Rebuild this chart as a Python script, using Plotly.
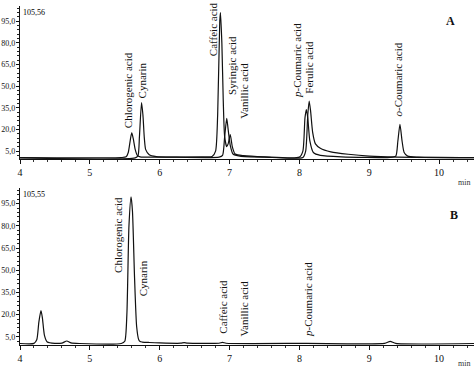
import plotly.graph_objects as go

# ---------------- data ----------------
# Panel A, trace 1 (standard mix, chromatogram 1)
a1_time = [4.0, 5.45, 5.52, 5.55, 5.58, 5.60, 5.62, 5.65, 5.68, 5.72, 6.0, 6.6, 6.75, 6.80, 6.83,
           6.86, 6.87, 6.89, 6.91, 6.93, 6.96, 6.98, 7.01, 7.04, 7.08, 7.2, 7.5, 8.0, 8.05, 8.08,
           8.10, 8.12, 8.15, 8.2, 8.3, 8.6, 9.3, 9.38, 9.41, 9.44, 9.47, 9.5, 9.55, 9.7, 10.5]
a1_signal = [0.5, 0.5, 1.0, 4.0, 13.0, 17.6, 14.0, 6.0, 2.0, 1.0, 0.8, 1.0, 1.2, 5.0, 30.0,
             95.0, 101.0, 80.0, 40.0, 15.0, 8.0, 10.0, 16.5, 8.0, 3.0, 1.8, 1.0, 0.8, 5.0, 28.0,
             33.8, 28.0, 12.0, 4.0, 2.0, 1.0, 0.6, 1.5, 12.0, 23.6, 12.0, 4.0, 1.5, 0.8, 0.5]

# Panel A, trace 2 (standard mix, chromatogram 2)
a2_time = [4.0, 5.65, 5.69, 5.71, 5.74, 5.76, 5.78, 5.80, 5.85, 5.95, 6.2, 6.85, 6.90, 6.93,
           6.96, 6.98, 7.01, 7.05, 7.15, 7.5, 8.05, 8.09, 8.12, 8.14, 8.16, 8.19, 8.23, 8.3,
           8.45, 8.7, 9.0, 9.4, 10.5]
a2_signal = [0.3, 0.3, 2.0, 15.0, 38.6, 30.0, 14.0, 6.0, 2.5, 1.2, 0.8, 0.8, 2.0, 15.0,
             27.6, 20.0, 9.0, 3.0, 1.5, 0.8, 0.6, 5.0, 30.0, 39.7, 33.0, 18.0, 10.0, 7.0,
             4.5, 2.8, 1.5, 0.8, 0.5]

# Panel B (sample)
b_time = [4.0, 4.2, 4.24, 4.27, 4.30, 4.32, 4.35, 4.39, 4.5, 4.6, 4.67, 4.73, 4.85, 5.45,
          5.50, 5.53, 5.56, 5.59, 5.61, 5.64, 5.67, 5.70, 5.72, 5.75, 5.85, 6.0, 6.3, 6.35,
          6.4, 6.85, 6.9, 6.95, 8.1, 9.22, 9.30, 9.38, 10.5]
b_signal = [0.5, 0.6, 3.0, 15.0, 22.7, 18.0, 6.0, 1.5, 0.6, 0.8, 2.2, 0.9, 0.5, 0.5,
            2.0, 20.0, 80.0, 99.6, 90.0, 45.0, 12.0, 3.0, 1.8, 1.5, 1.2, 0.9, 0.7, 1.1,
            0.7, 0.7, 1.3, 0.7, 0.6, 0.6, 2.0, 0.6, 0.5]

# Peak labels
labels_a = ["Chlorogenic acid", "Cynarin", "Caffeic acid", "Syringic acid", "Vanillic acid",
            "<i>p</i>-Coumaric acid", "Ferulic acid", "<i>o</i>-Coumaric acid"]
labels_a_x = [5.547, 5.748, 6.765, 7.037, 7.213, 7.968, 8.136, 9.415]
labels_a_y = [19.5, 40.2, 69.5, 42.3, 26.4, 40.2, 43.7, 27.8]

labels_b = ["Chlorogenic acid", "Cynarin", "Caffeic acid", "Vanillic acid", "<i>p</i>-Coumaric acid"]
labels_b_x = [5.404, 5.758, 6.904, 7.213, 8.126]
labels_b_y = [46.9, 30.9, 5.7, 4.1, 3.4]

y_max_a = 105.56
y_max_b = 105.55
y_max_text_a = "105,56"
y_max_text_b = "105,55"
panel_names = ["A", "B"]

# ---------------- figure ----------------
line_style = dict(color="#111111", width=1.2, shape="spline", smoothing=0.6)
fig = go.Figure()
fig.add_trace(go.Scatter(x=a1_time, y=a1_signal, mode="lines", line=line_style,
                         xaxis="x", yaxis="y", showlegend=False, hoverinfo="skip"))
fig.add_trace(go.Scatter(x=a2_time, y=a2_signal, mode="lines", line=line_style,
                         xaxis="x", yaxis="y", showlegend=False, hoverinfo="skip"))
fig.add_trace(go.Scatter(x=b_time, y=b_signal, mode="lines", line=line_style,
                         xaxis="x2", yaxis="y2", showlegend=False, hoverinfo="skip"))

serif = "Liberation Serif"
xtickfont = dict(family=serif, size=10, color="#111")
ytickfont = dict(family=serif, size=8, color="#111")

xcommon = dict(range=[4, 10.5], showline=True, linecolor="#111", linewidth=1.2,
               ticks="outside", ticklen=4, tickwidth=1, tickcolor="#111",
               tick0=4, dtick=1, tickfont=xtickfont, showgrid=False, zeroline=False,
               automargin=False,
               minor=dict(dtick=0.2, ticks="outside", ticklen=2, tickcolor="#333", showgrid=False),
               domain=[0, 1], fixedrange=True)
ycommon = dict(showline=True, linecolor="#111", linewidth=1.2,
               ticks="outside", ticklen=3, tickwidth=1, tickcolor="#111",
               tickmode="linear", tick0=5, dtick=15, tickformat=".1f",
               ticklabelstandoff=-1,
               tickfont=ytickfont, showgrid=False, zeroline=False, automargin=False,
               fixedrange=True,
               minor=dict(tick0=5, dtick=3, ticks="outside", ticklen=2, tickcolor="#222", showgrid=False))

fig.update_layout(
    width=474, height=368,
    margin=dict(l=20, r=0, t=0, b=0, autoexpand=False),
    paper_bgcolor="white", plot_bgcolor="white",
    separators=",.",
    xaxis=dict(**xcommon, anchor="y"),
    yaxis=dict(**ycommon, range=[-0.5, y_max_a], domain=[0.5679, 0.9837], anchor="x"),
    xaxis2=dict(**xcommon, anchor="y2"),
    yaxis2=dict(**ycommon, range=[-0.5, y_max_b], domain=[0.0625, 0.4891], anchor="x2"),
)

ann = []
for t, x, y in zip(labels_a, labels_a_x, labels_a_y):
    ann.append(dict(text=t, x=x, y=y, xref="x", yref="y", textangle=-90,
                    xanchor="center", yanchor="bottom", showarrow=False,
                    font=dict(family=serif, size=11, color="#111")))
for t, x, y in zip(labels_b, labels_b_x, labels_b_y):
    ann.append(dict(text=t, x=x, y=y, xref="x2", yref="y2", textangle=-90,
                    xanchor="center", yanchor="bottom", showarrow=False,
                    font=dict(family=serif, size=11, color="#111")))

# top-of-scale values
ann.append(dict(text=y_max_text_a, x=0, y=y_max_a, xref="x domain", yref="y",
                xanchor="left", yanchor="top", xshift=1, showarrow=False,
                font=dict(family=serif, size=8, color="#000000")))
ann.append(dict(text=y_max_text_b, x=0, y=y_max_b, xref="x2 domain", yref="y2",
                xanchor="left", yanchor="top", xshift=1, showarrow=False,
                font=dict(family=serif, size=8, color="#000000")))
# panel letters (pixel positions converted to paper coordinates)
for name, px, py in zip(panel_names, (450, 454), (21, 215)):
    ann.append(dict(text="<b>" + name + "</b>", x=(px - 20) / 454, y=1 - py / 368,
                    xref="paper", yref="paper", xanchor="center", yanchor="middle",
                    showarrow=False, font=dict(family=serif, size=12, color="#111")))
# axis unit
for ypx in (182, 363):
    ann.append(dict(text="min", x=1, y=1 - ypx / 368, xref="paper", yref="paper",
                    xanchor="right", yanchor="middle", xshift=-2, showarrow=False,
                    font=dict(family=serif, size=8, color="#333")))

fig.update_layout(annotations=ann)
fig.write_html("out.html", config={"displayModeBar": False, "staticPlot": True},
               post_script="document.body.style.margin='0';document.body.style.overflow='hidden';")
